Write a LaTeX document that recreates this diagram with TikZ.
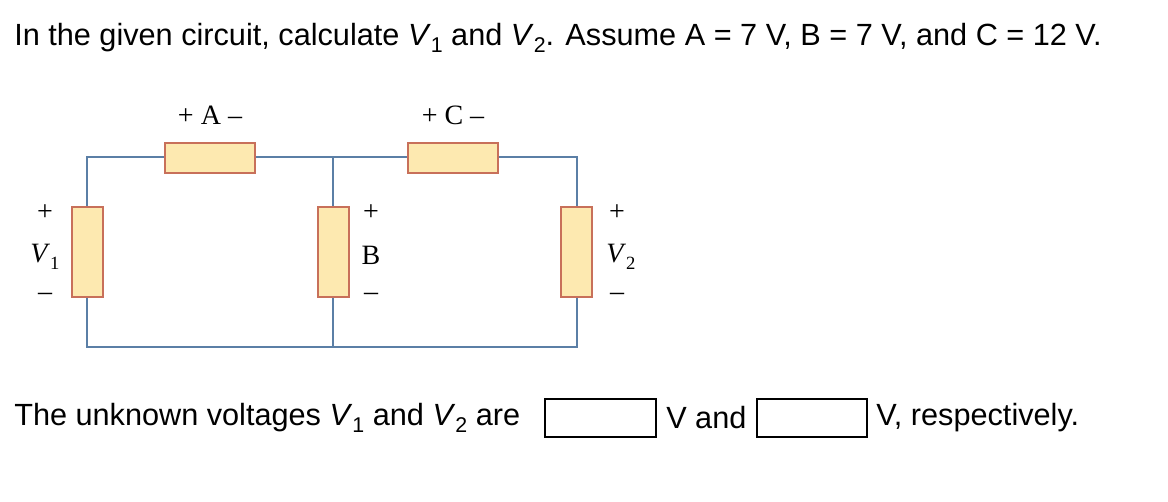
\documentclass[tikz,border=0pt]{standalone}
\usepackage{fontspec}
\setmainfont{Liberation Sans}
\newfontfamily\serif{Liberation Serif}
\newcommand{\vv}[1]{\textit{V}\raisebox{-0.25em}{\fontsize{16}{16}\selectfont #1}}
\newcommand{\sv}[1]{\textit{V}\raisebox{-0.25em}{\fontsize{14}{14}\selectfont #1}}
\begin{document}
\begin{tikzpicture}[x=0.75pt,y=-0.75pt,
  wire/.style={draw=wirecol,line width=1.3pt},
  res/.style={draw=rescol,fill=resfill,line width=1.1pt},
  lab/.style={font=\serif\fontsize{21}{22}\selectfont,inner sep=0pt},
  txt/.style={font=\fontsize{23}{26}\selectfont,inner sep=0pt,anchor=west}]
\definecolor{wirecol}{HTML}{5B7FA6}
\definecolor{rescol}{HTML}{C8705A}
\definecolor{resfill}{HTML}{FDE9B0}
\useasboundingbox (0,0) rectangle (1168,502);
\node[txt] (title) at (14,38) {In the given circuit, calculate \vv{1} and \vv{2}. Assume A = 7 V, B = 7 V, and C = 12 V.};
\coordinate (tl) at (87,157); \coordinate (tm) at (333,157); \coordinate (tr) at (577,157);
\coordinate (bl) at (87,347); \coordinate (bm) at (333,347); \coordinate (br) at (577,347);
\draw[wire] (tl) -- (tr) -- (br) -- (bl) -- cycle;
\draw[wire] (tm) -- (bm);
\draw[res] (165,143) rectangle (255,173);
\draw[res] (408,143) rectangle (498,173);
\draw[res] (72,207) rectangle (103,297);
\draw[res] (318,207) rectangle (349,297);
\draw[res] (561,207) rectangle (592,297);
\node[lab] (la) at (210,115) {+ A \textendash};
\node[lab] (lc) at (453,115) {+ C \textendash};
\node[lab] (p1) at (45,213) {+};
\node[lab] (v1) at (45,257) {\sv{1}};
\node[lab] (m1) at (45,297) {\textendash};
\node[lab] (p2) at (371,213) {+};
\node[lab] (b) at (371,255) {B};
\node[lab] (m2) at (371,297) {\textendash};
\node[lab] (p3) at (617,213) {+};
\node[lab] (v2) at (621,257) {\sv{2}};
\node[lab] (m3) at (617,297) {\textendash};
\node[txt] (q1) at (14,418) {The unknown voltages \vv{1} and \vv{2} are};
\draw[line width=0.8pt] (545,399) rectangle (656,437);
\node[txt] (q2) at (666,418) {V and};
\draw[line width=0.8pt] (757,399) rectangle (867,437);
\node[txt] (q3) at (876,418) {V, respectively.};
\end{tikzpicture}
\end{document}
